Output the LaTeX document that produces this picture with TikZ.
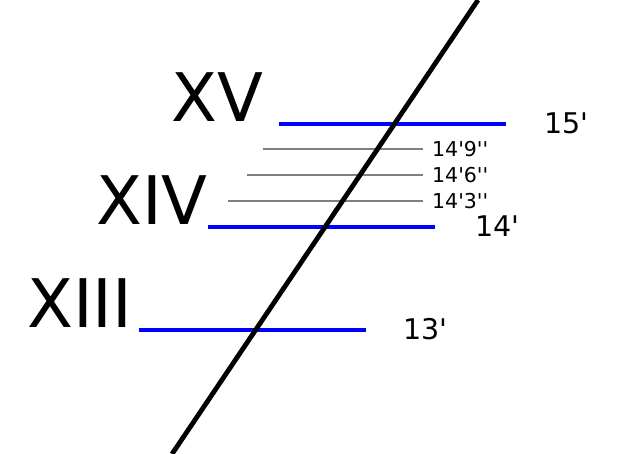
\documentclass[tikz,border=0pt]{standalone}
\usepackage{fontspec}
\setmainfont{DejaVu Sans}
\usetikzlibrary{positioning}
\pgfmathsetmacro{\bigsize}{67}
\pgfmathsetmacro{\midsize}{28.5}
\pgfmathsetmacro{\smallsize}{20.5}
\newcommand{\ft}{\textquotesingle}
\newcommand{\inchmark}{\textquotesingle\textquotesingle}
\tikzset{
  foot/.style={blue, line width=4.8pt},
  inch/.style={gray, line width=1.8pt},
  staff/.style={black, line width=4.8pt},
  roman/.style={inner sep=0, anchor=base west, font=\fontsize{\bigsize}{\bigsize}\selectfont},
  feetlabel/.style={inner sep=0, anchor=base west, font=\fontsize{\midsize}{\midsize}\selectfont},
  inchlabel/.style={inner sep=0, anchor=base west, font=\fontsize{\smallsize}{\smallsize}\selectfont},
}
\begin{document}
\begin{tikzpicture}[x=1pt, y=-1pt]
    \useasboundingbox (0,0) rectangle (640,454);
    % define coordinates
    % staff
    \coordinate (staff_bottom) at (172, 454);
    \coordinate (staff_top) at (478, 0);
    % feet marks
    \coordinate (xv_in) at (279, 124);
    \coordinate (xv_out) at (506, 124);
    \coordinate (xiv_in) at (208, 227);
    \coordinate (xiv_out) at (435, 227);
    \coordinate (xiii_in) at (139, 330);
    \coordinate (xiii_out) at (366, 330);
    % inch marks
    \coordinate (nine_in) at (263, 149);
    \coordinate (nine_out) at (423, 149);
    \coordinate (six_in) at (247, 175);
    \coordinate (six_out) at (423, 175);
    \coordinate (three_in) at (228, 201);
    \coordinate (three_out) at (423, 201);
    % draw marks
    \draw[foot] (xv_in) -- (xv_out);
    \draw[foot] (xiv_in) -- (xiv_out);
    \draw[foot] (xiii_in) -- (xiii_out);
    \draw[inch] (nine_in) -- (nine_out);
    \draw[inch] (six_in) -- (six_out);
    \draw[inch] (three_in) -- (three_out);
    % draw staff on top
    \draw[staff] (staff_bottom) -- (staff_top);
    % add labels
    \node[roman] (xv_label) at (171, 122) {XV};
    \node[roman] (xiv_label) at (96, 225) {XIV};
    \node[roman] (xiii_label) at (27, 328) {XIII};
    \node[feetlabel] (xv_feet) at (544, 134) {15\ft};
    \node[feetlabel] (xiv_feet) at (475, 237) {14\ft};
    \node[feetlabel] (xiii_feet) at (403, 340) {13\ft};
    \node[inchlabel] (nine_label) at (432, 157) {14\ft9\inchmark};
    \node[inchlabel] (six_label) at (432, 183) {14\ft6\inchmark};
    \node[inchlabel] (three_label) at (432, 209) {14\ft3\inchmark};
\end{tikzpicture}
\end{document}
